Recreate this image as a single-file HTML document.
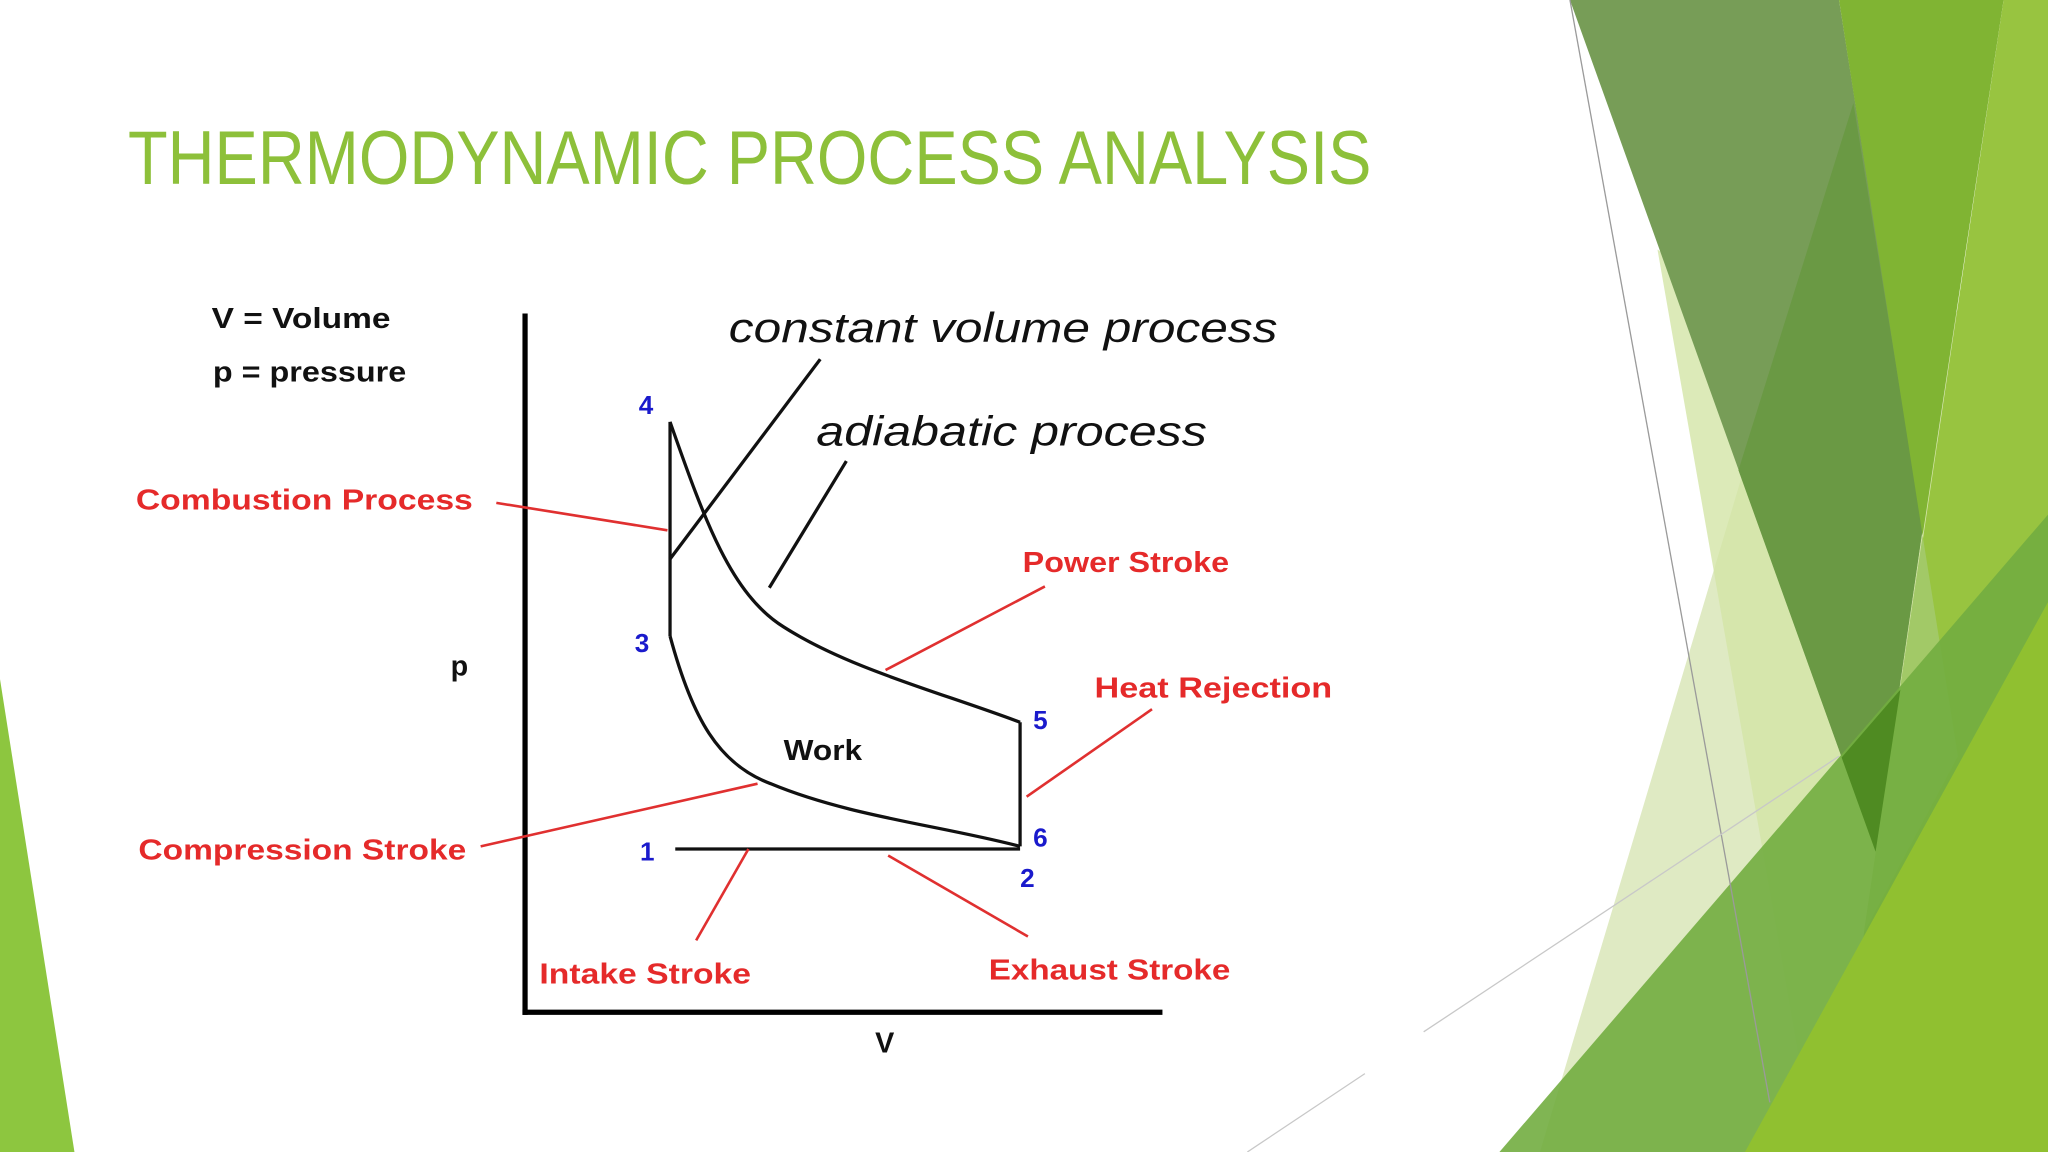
<!DOCTYPE html>
<html><head><meta charset="utf-8"><style>
html,body{margin:0;padding:0;background:#fff;}
svg{display:block;}
</style></head><body>
<svg width="2048" height="1152" viewBox="0 0 1568 882" xmlns="http://www.w3.org/2000/svg">
<rect width="1568" height="882" fill="#ffffff"/>
<!-- right decoration -->
<polygon points="1419,79 1179,882 1568,882 1568,380" fill="#dfeac3"/>
<polygon points="1269,191 1390,882 1568,882 1568,400" fill="#d3e5a6" opacity="0.8"/>
<polygon points="1202,0 1408,0 1472,405 1436,652" fill="#779d57"/>
<polygon points="1419,79 1472,405 1436,652 1331,360" fill="#6a9944"/>
<polygon points="1408,0 1534,0 1472,410" fill="#80b433"/>
<polygon points="1534,0 1568,0 1568,882 1402,882" fill="#98c440"/>
<polygon points="1472,410 1499,579 1427,714" fill="#a2c967"/>
<polygon points="1148,882 1568,394 1568,882" fill="#72ad40" opacity="0.9"/>
<polygon points="1410,580 1455,528 1436,652" fill="#4f8b22"/>
<polygon points="1336,882 1568,461 1568,882" fill="#90c030"/>
<line x1="1202" y1="0" x2="1355" y2="844" stroke="#9a9a9a" stroke-width="1"/>
<line x1="1090" y1="790" x2="1408" y2="579" stroke="#c8c8c8" stroke-width="1"/>
<line x1="955" y1="882" x2="1045" y2="822" stroke="#c8c8c8" stroke-width="1"/>
<!-- left decoration -->
<polygon points="0,520 0,882 57,882" fill="#8dc63f"/>
<!-- title -->
<text x="98" y="141" font-family="Liberation Sans, sans-serif" font-size="58" fill="#8dc03a" textLength="952" lengthAdjust="spacingAndGlyphs">THERMODYNAMIC PROCESS ANALYSIS</text>
<!-- axes -->
<line x1="402" y1="240" x2="402" y2="777" stroke="#000" stroke-width="4"/>
<line x1="400" y1="775" x2="890" y2="775" stroke="#000" stroke-width="4"/>
<!-- cycle -->
<g fill="none" stroke="#111" stroke-width="2.5">
<line x1="513" y1="323" x2="513" y2="487"/>
<path d="M513,323 C540,400 560,455 600,480 C650,512 720,530 781,553"/>
<line x1="781" y1="553" x2="781" y2="648"/>
<path d="M513,487 C530,550 550,585 590,600 C650,625 720,632 781,648"/>
<line x1="517" y1="650" x2="781" y2="650"/>
<line x1="628" y1="275" x2="513" y2="428"/>
<line x1="648" y1="353" x2="589" y2="450"/>
</g>
<g stroke="#e03030" stroke-width="2">
<line x1="380" y1="385" x2="511" y2="406"/>
<line x1="800" y1="449" x2="678" y2="513"/>
<line x1="882" y1="543" x2="786" y2="610"/>
<line x1="368" y1="648" x2="580" y2="600"/>
<line x1="533" y1="720" x2="573" y2="650"/>
<line x1="787" y1="717" x2="680" y2="655"/>
</g>
<g font-family="Liberation Sans, sans-serif" font-weight="bold" font-size="20" fill="#1a1acc">
<text x="489" y="317">4</text>
<text x="486" y="499">3</text>
<text x="791" y="558">5</text>
<text x="791" y="648">6</text>
<text x="490" y="659">1</text>
<text x="781" y="679">2</text>
</g>
<g font-family="Liberation Sans, sans-serif" font-weight="bold" font-size="22" fill="#111">
<text x="162" y="251" textLength="137" lengthAdjust="spacingAndGlyphs">V = Volume</text>
<text x="163" y="292" textLength="148" lengthAdjust="spacingAndGlyphs">p = pressure</text>
<text x="345" y="517">p</text>
<text x="670" y="806">V</text>
<text x="600" y="582" textLength="60" lengthAdjust="spacingAndGlyphs">Work</text>
</g>
<g font-family="Liberation Sans, sans-serif" font-style="italic" font-size="32" fill="#111">
<text x="558" y="262" textLength="420" lengthAdjust="spacingAndGlyphs">constant volume  process</text>
<text x="625" y="341" textLength="299" lengthAdjust="spacingAndGlyphs">adiabatic  process</text>
</g>
<g font-family="Liberation Sans, sans-serif" font-weight="bold" font-size="22" fill="#e52a2a">
<text x="104" y="390" textLength="258" lengthAdjust="spacingAndGlyphs">Combustion  Process</text>
<text x="783" y="438" textLength="158" lengthAdjust="spacingAndGlyphs">Power Stroke</text>
<text x="838" y="534" textLength="182" lengthAdjust="spacingAndGlyphs">Heat  Rejection</text>
<text x="106" y="658" textLength="251" lengthAdjust="spacingAndGlyphs">Compression  Stroke</text>
<text x="413" y="753" textLength="162" lengthAdjust="spacingAndGlyphs">Intake  Stroke</text>
<text x="757" y="750" textLength="185" lengthAdjust="spacingAndGlyphs">Exhaust  Stroke</text>
</g>
</svg>
</body></html>
